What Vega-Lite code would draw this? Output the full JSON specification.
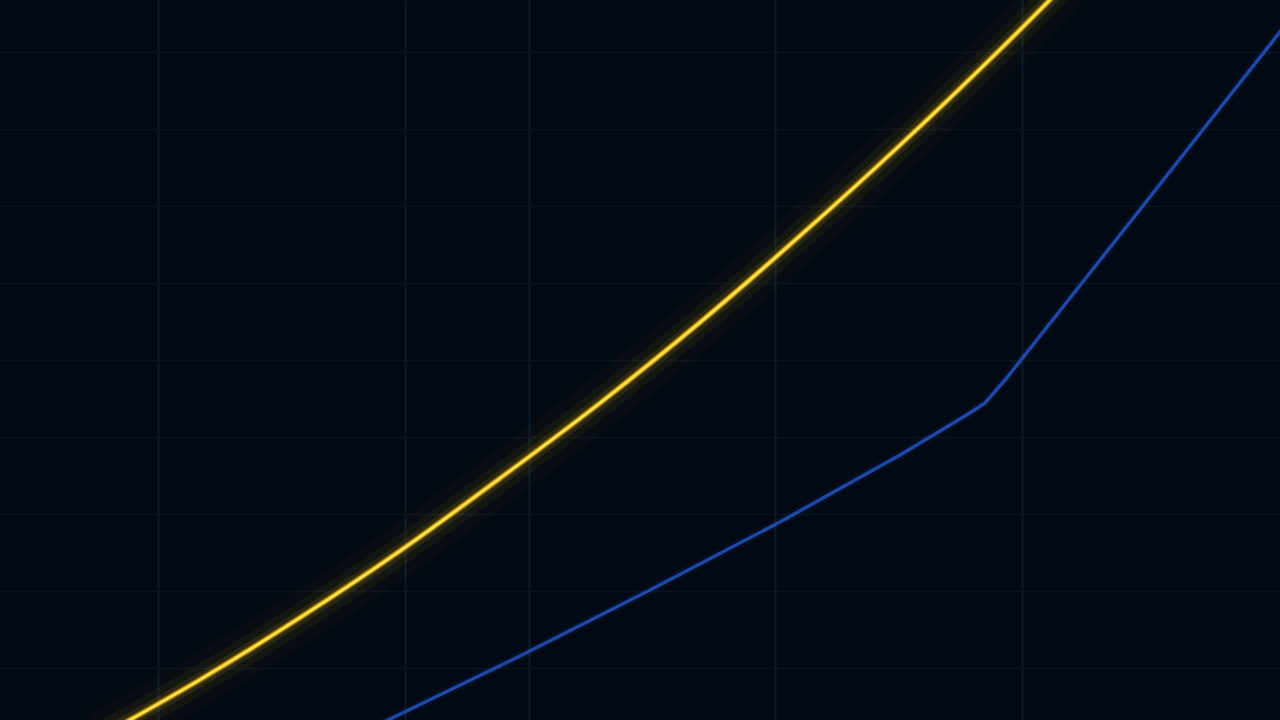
{
  "$schema": "https://vega.github.io/schema/vega-lite/v6.json",
  "width": 1280,
  "height": 720,
  "autosize": {"type": "fit", "contains": "padding"},
  "padding": 0,
  "background": "#020913",
  "config": {"view": {"stroke": null, "fill": "#020913"}},
  "datasets": {
    "yellow": [
      {"x": 0.527, "y": -0.891},
      {"x": 1.337, "y": -0.151},
      {"x": 2.147, "y": 0.654},
      {"x": 2.958, "y": 1.521},
      {"x": 3.768, "y": 2.464},
      {"x": 4.579, "y": 3.442},
      {"x": 5.389, "y": 4.489},
      {"x": 6.199, "y": 5.612},
      {"x": 7.01, "y": 6.79},
      {"x": 7.82, "y": 8.031},
      {"x": 8.631, "y": 9.335}
    ],
    "blue": [
      {"x": 2.634, "y": -0.857},
      {"x": 2.861, "y": -0.675},
      {"x": 3.93, "y": 0.156},
      {"x": 4.984, "y": 1.013},
      {"x": 6.037, "y": 1.896},
      {"x": 7.01, "y": 2.766},
      {"x": 7.536, "y": 3.273},
      {"x": 7.699, "y": 3.442},
      {"x": 7.861, "y": 3.74},
      {"x": 8.76, "y": 5.558},
      {"x": 10.089, "y": 8.26},
      {"x": 10.251, "y": 8.584}
    ]
  },
  "encoding": {
    "x": {
      "field": "x", "type": "quantitative",
      "scale": {"domain": [-0.284, 10.089], "nice": false, "zero": false},
      "axis": {"title": null, "labels": false, "ticks": false, "domain": false, "values": [1, 3, 4, 6, 8], "gridColor": "#0c1a28", "gridWidth": 2}
    },
    "y": {
      "field": "y", "type": "quantitative",
      "scale": {"domain": [-0.675, 8.675], "nice": false, "zero": false},
      "axis": {"title": null, "labels": false, "ticks": false, "domain": false, "values": [0, 1, 2, 3, 4, 5, 6, 7, 8], "gridColor": "#091520", "gridWidth": 1.5}
    }
  },
  "layer": [
    {"data": {"name": "blue"}, "mark": {"type": "line", "interpolate": "linear", "strokeJoin": "round", "clip": true, "color": "#1d3f8f", "strokeWidth": 9, "opacity": 0.12}},
    {"data": {"name": "blue"}, "mark": {"type": "line", "interpolate": "linear", "strokeJoin": "round", "clip": true, "color": "#1f47a8", "strokeWidth": 3.5, "opacity": 1}},
    {"data": {"name": "yellow"}, "mark": {"type": "line", "interpolate": "monotone", "clip": true, "color": "#8a6a10", "strokeWidth": 50, "opacity": 0.05}},
    {"data": {"name": "yellow"}, "mark": {"type": "line", "interpolate": "monotone", "clip": true, "color": "#b88a14", "strokeWidth": 28, "opacity": 0.07}},
    {"data": {"name": "yellow"}, "mark": {"type": "line", "interpolate": "monotone", "clip": true, "color": "#d9a514", "strokeWidth": 14, "opacity": 0.12}},
    {"data": {"name": "yellow"}, "mark": {"type": "line", "interpolate": "monotone", "clip": true, "color": "#f0b818", "strokeWidth": 7, "opacity": 0.3}},
    {"data": {"name": "yellow"}, "mark": {"type": "line", "interpolate": "monotone", "clip": true, "color": "#f5c518", "strokeWidth": 4, "opacity": 0.95}},
    {"data": {"name": "yellow"}, "mark": {"type": "line", "interpolate": "monotone", "clip": true, "color": "#ffe35a", "strokeWidth": 1.8, "opacity": 1}}
  ]
}
